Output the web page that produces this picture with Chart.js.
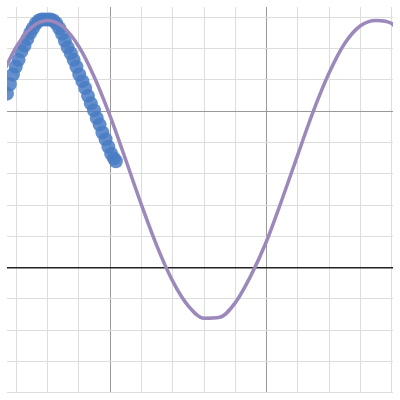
<!DOCTYPE html>
<html>
<head>
<meta charset="utf-8">
<script src="https://cdn.jsdelivr.net/npm/chart.js@4/dist/chart.umd.min.js"></script>
<style>html,body{margin:0;padding:0;background:#fff}</style>
</head>
<body>
<canvas id="c" width="400" height="400"></canvas>
<script>
// curve (grid units)
const curveX = [-8.5,-8,-7.5,-7,-6.5,-6,-5.5,-5,-4.5,-4,-3.5,-3,-2.5,-2,-1.5,-1,-0.5,0,0.5,1,1.5,2,2.5,3,3.5,4,4.5];
const curveY = [6.07,7.06,7.69,7.90,7.69,7.06,6.07,4.83,3.43,2.00,0.67,-0.44,-1.23,-1.62,-1.59,-1.12,-0.25,0.85,2.20,3.62,5.02,6.23,7.17,7.73,7.90,7.80,6.94];

// dots
const dotX = [-8.30,-8.21,-8.11,-8.02,-7.93,-7.84,-7.74,-7.65,-7.56,-7.47,-7.37,-7.28,-7.19,-7.10,-7.00,-6.91,-6.82,-6.73,-6.63,-6.54,-6.45,-6.36,-6.26,-6.17,-6.08,-5.99,-5.89,-5.80,-5.71,-5.62,-5.52,-5.43,-5.34,-5.25,-5.15,-5.06,-4.97,-4.88,-4.82];
const dotY = [5.56,5.86,6.17,6.42,6.64,6.91,7.10,7.31,7.50,7.65,7.81,7.90,7.93,7.93,7.93,7.93,7.90,7.81,7.65,7.47,7.25,7.04,6.85,6.64,6.42,6.17,5.96,5.74,5.49,5.25,5.03,4.78,4.57,4.32,4.10,3.86,3.64,3.49,3.40];

const xTicks = [-8,-7,-6,-5,-4,-3,-2,-1,0,1,2,3,4];
const yTicks = [-4,-3,-2,-1,0,1,2,3,4,5,6,7,8];

const gridColor = (ctx, axisLine) => {
  const v = ctx.tick.value;
  if (v === 0 && axisLine) return '#222';
  if (v % 5 === 0) return '#999';
  return '#ddd';
};

const scaleOpts = (min, max, ticks, axisLine) => ({
  type: 'linear', min, max,
  afterBuildTicks: s => { s.ticks = ticks.map(v => ({ value: v })); },
  ticks: { display: false },
  border: { display: false },
  grid: {
    drawTicks: false,
    color: ctx => gridColor(ctx, axisLine),
    lineWidth: ctx => (ctx.tick.value === 0 && axisLine) ? 1.5 : 1
  }
});

new Chart(document.getElementById('c').getContext('2d'), {
  type: 'scatter',
  data: {
    datasets: [
      {
        type: 'line',
        data: curveX.map((x, i) => ({ x, y: curveY[i] })),
        borderColor: '#9c88bb',
        borderWidth: 3.5,
        pointRadius: 0,
        tension: 0.4,
        cubicInterpolationMode: 'monotone'
      },
      {
        data: dotX.map((x, i) => ({ x, y: dotY[i] })),
        backgroundColor: 'rgba(74,125,196,0.85)',
        borderWidth: 0,
        pointRadius: 7
      }
    ]
  },
  options: {
    responsive: false,
    animation: false,
    layout: { padding: 0 },
    plugins: { legend: { display: false }, tooltip: { enabled: false } },
    scales: {
      x: scaleOpts(-8.30, 4.04, xTicks, false),
      y: scaleOpts(-4.01, 8.33, yTicks, true)
    }
  }
});
</script>
</body>
</html>
